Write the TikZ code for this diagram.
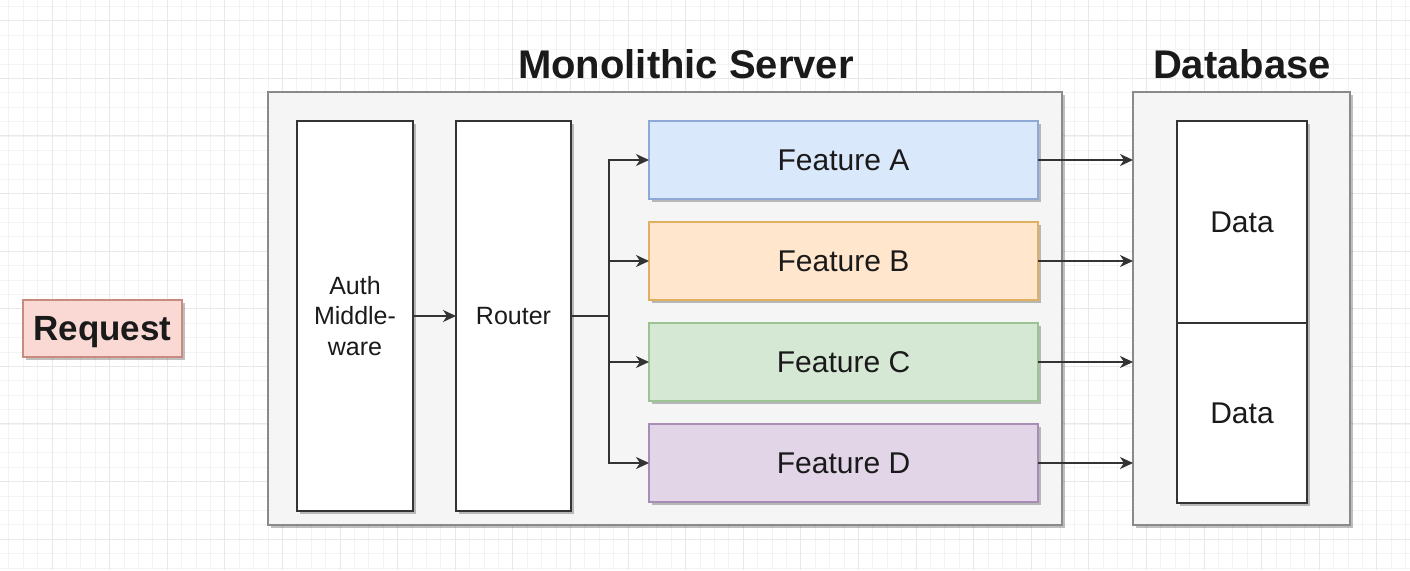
\documentclass[tikz,border=0pt]{standalone}
\usepackage{fontspec}
\setmainfont{Liberation Sans}
\usetikzlibrary{arrows.meta,shadows}
\definecolor{gridminor}{HTML}{F3F3F3}
\definecolor{gridmajor}{HTML}{E8E8E8}
\definecolor{txt}{HTML}{1A1A1A}
\definecolor{edge}{HTML}{333333}
\definecolor{groupfill}{HTML}{F5F5F5}
\definecolor{groupline}{HTML}{8A8A8A}
\definecolor{reqfill}{HTML}{FAD9D5}
\definecolor{reqline}{HTML}{C98A80}
\definecolor{afill}{HTML}{DAE8FC}\definecolor{aline}{HTML}{8EA9D6}
\definecolor{bfill}{HTML}{FFE6CC}\definecolor{bline}{HTML}{E0B060}
\definecolor{cfill}{HTML}{D5E8D4}\definecolor{cline}{HTML}{9CC394}
\definecolor{dfill}{HTML}{E1D5E7}\definecolor{dline}{HTML}{A78CB6}
\tikzset{
  shad/.style={drop shadow={shadow xshift=3pt,shadow yshift=-3pt,fill=black,opacity=0.25}},
  box/.style={rectangle,inner sep=0pt,outer sep=0pt,shad,text=txt,align=center},
  group/.style={box,fill=groupfill,draw=groupline,line width=1.5pt},
  whitebox/.style={box,fill=white,draw=edge,line width=1.5pt,font=\fontsize{25}{30.5}\selectfont},
  feat/.style={box,line width=1.3pt,minimum width=389pt,minimum height=78pt,font=\fontsize{30}{36}\selectfont},
  title/.style={text=txt,font=\bfseries\fontsize{40}{48}\selectfont,inner sep=0pt},
  conn/.style={draw=edge,line width=1.3pt},
  arr/.style={conn,-{Stealth[length=13pt,width=12pt,inset=4pt]}}
}
\begin{document}
\begin{tikzpicture}[x=1pt,y=-1pt]
\useasboundingbox (0,0) rectangle (1410,570);
\fill[white] (0,0) rectangle (1410,570);
% grid
\foreach \i in {-4,...,94} {
  \pgfmathsetmacro\xx{52+14.4*\i}
  \draw[gridminor,line width=0.8pt] (\xx,0) -- (\xx,570);
}
\foreach \i in {-1,...,38} {
  \pgfmathsetmacro\yy{20.7+14.4*\i}
  \draw[gridminor,line width=0.8pt] (0,\yy) -- (1410,\yy);
}
\foreach \i in {-1,...,24} {
  \pgfmathsetmacro\xx{52+57.6*\i}
  \draw[gridmajor,line width=1pt] (\xx,0) -- (\xx,570);
}
\foreach \i in {0,...,10} {
  \pgfmathsetmacro\yy{20.7+57.6*\i}
  \draw[gridmajor,line width=1pt] (0,\yy) -- (1410,\yy);
}
% request
\node[box,fill=reqfill,draw=reqline,line width=1.3pt,minimum width=159pt,minimum height=57pt,text depth=0pt,font=\bfseries\fontsize{35}{42}\selectfont] (req) at (102.5,328.5) {Request};
% groups
\node[group,minimum width=794pt,minimum height=433pt] (mono) at (665,308.5) {};
\node[group,minimum width=217pt,minimum height=433pt] (db) at (1241.5,308.5) {};
\node[title] (monot) at (686,64) {Monolithic Server};
\node[title] (dbt) at (1242,64) {Database};
% auth, router
\node[whitebox,minimum width=116pt,minimum height=390pt] (auth) at (355,316) {Auth\\Middle-\\ware};
\node[whitebox,minimum width=115pt,minimum height=390pt] (router) at (513.5,316) {Router};
% features
\node[feat,fill=afill,draw=aline] (fa) at (843.5,160) {Feature A};
\node[feat,fill=bfill,draw=bline] (fb) at (843.5,261) {Feature B};
\node[feat,fill=cfill,draw=cline] (fc) at (843.5,362) {Feature C};
\node[feat,fill=dfill,draw=dline] (fd) at (843.5,463) {Feature D};
% data
\node[whitebox,minimum width=130pt,minimum height=202pt,font=\fontsize{30}{36}\selectfont] (d1) at (1242,222) {Data};
\node[whitebox,minimum width=130pt,minimum height=180pt,font=\fontsize{30}{36}\selectfont] (d2) at (1242,413) {Data};
% connectors
\draw[arr] (auth.east) -- (router.west);
\coordinate (bus) at (609,316);
\draw[conn] (router.east) -- (bus);
\draw[arr] (bus) |- (fa.west);
\draw[arr] (bus) |- (fb.west);
\draw[arr] (bus) |- (fc.west);
\draw[arr] (bus) |- (fd.west);
\draw[arr] (fa.east) -- (fa.east -| db.west);
\draw[arr] (fb.east) -- (fb.east -| db.west);
\draw[arr] (fc.east) -- (fc.east -| db.west);
\draw[arr] (fd.east) -- (fd.east -| db.west);
\end{tikzpicture}
\end{document}
